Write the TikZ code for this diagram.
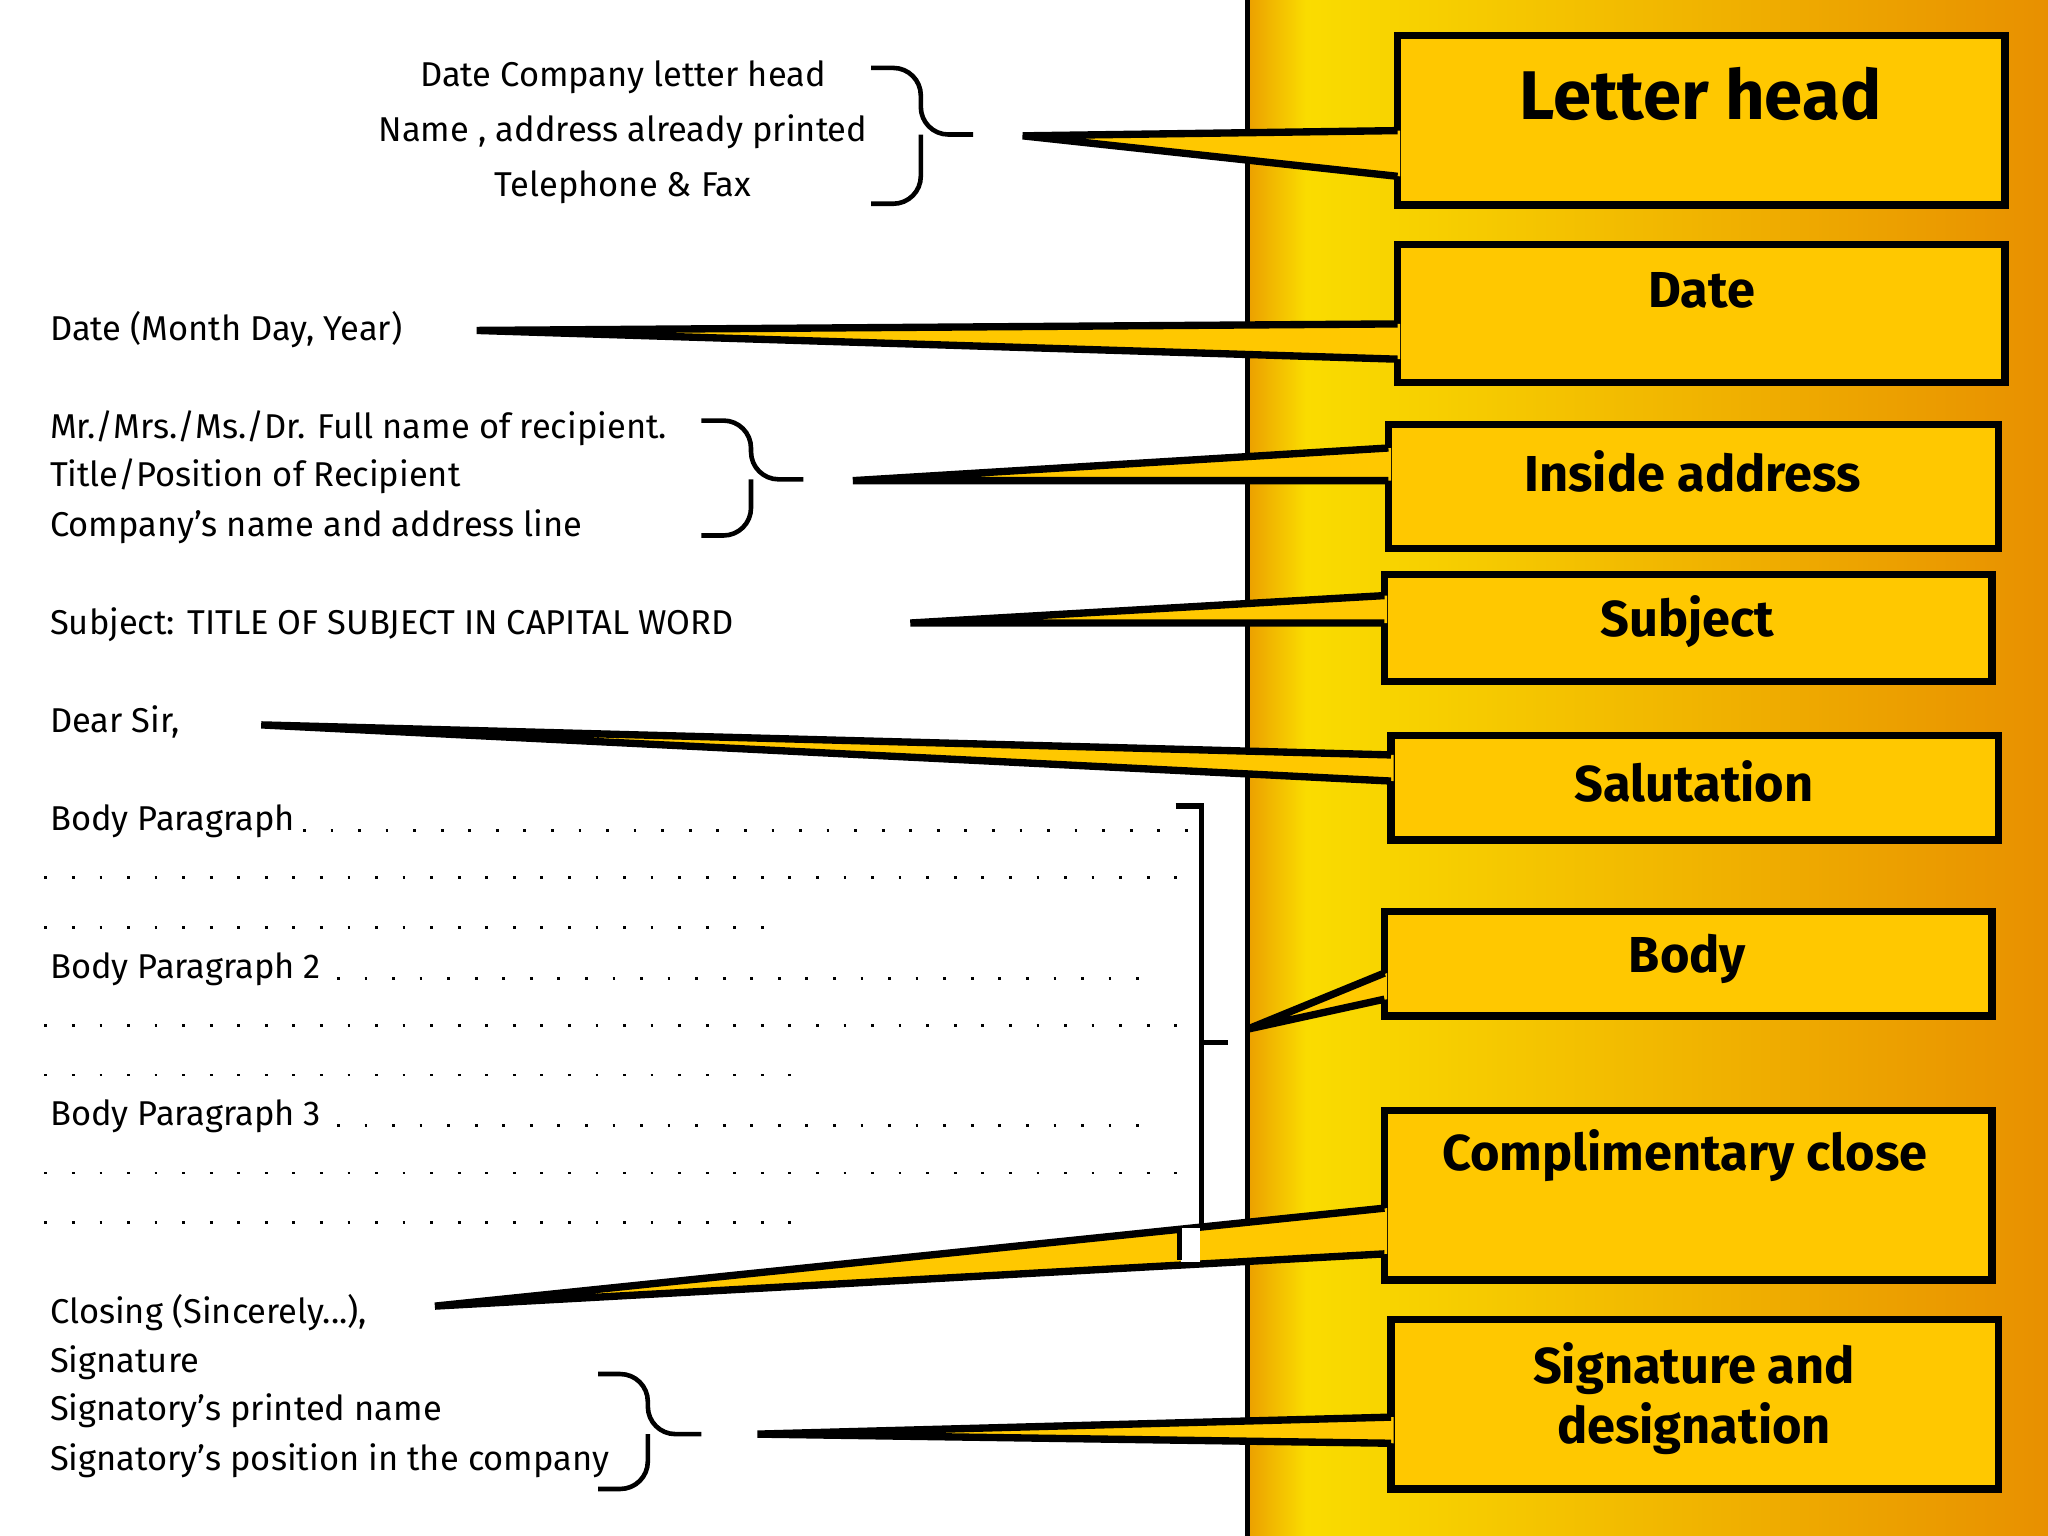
\documentclass[tikz,border=0pt]{standalone}
\usepackage{fontspec}
\setmainfont{Fira Sans}
\usepackage{tikz}
\definecolor{boxfill}{HTML}{FFC800}
\definecolor{bgorange}{HTML}{E89000}
\definecolor{bgyellow}{HTML}{FADC00}
\tikzset{
  txt/.style={anchor=west,font=\fontsize{7.5}{9}\selectfont},
  tag/.style={draw,line width=1.6pt,fill=boxfill},
  tagtxt/.style={font=\fontsize{11}{13}\bfseries\selectfont,align=center},
  wedge/.style={fill=boxfill},
  dots/.style={line width=0.6pt,dash pattern=on 0.6pt off 5.4pt},
}
\begin{document}
\begin{tikzpicture}[>=latex,x=0.01cm,y=-0.01cm]
\useasboundingbox (0,0) rectangle (1568,1176);
%background
\fill[white] (0,0) rectangle (955,1176);
\shade[left color=bgorange!80!bgyellow,right color=bgorange] (955,0) rectangle (1568,1176);
\shade[left color=bgorange!80!bgyellow,right color=bgyellow] (955,0) rectangle (1000,1176);
\shade[left color=bgyellow,right color=bgorange] (1000,0) rectangle (1568,1176);
\draw[line width=1pt] (955,0) -- (955,1176);
%tag boxes
\draw[tag] (1070,27) rectangle (1535,157) coordinate (lh);
\draw[tag] (1070,187) rectangle (1535,293) coordinate (dt);
\draw[tag] (1063,325) rectangle (1530,420) coordinate (ia);
\draw[tag] (1060,440) rectangle (1525,522) coordinate (sb);
\draw[tag] (1065,563) rectangle (1530,643) coordinate (sl);
\draw[tag] (1060,698) rectangle (1525,778) coordinate (bd);
\draw[tag] (1060,850) rectangle (1525,980) coordinate (cc);
\draw[tag] (1065,1010) rectangle (1530,1140) coordinate (sg);
\node[tagtxt,font=\fontsize{15}{17}\bfseries\selectfont] (lhtxt) at (1302,72) {Letter head};
\node[tagtxt] (dttxt) at (1303,222) {Date};
\node[tagtxt] (iatxt) at (1296,361) {Inside address};
\node[tagtxt] (sbtxt) at (1292,476) {Subject};
\node[tagtxt] (sltxt) at (1297,598) {Salutation};
\node[tagtxt] (bdtxt) at (1292,734) {Body};
\node[tagtxt] (cctxt) at (1290,885) {Complimentary close};
\node[tagtxt] (sgtxt) at (1297,1071) {Signature and\\designation};
%body bracket
\draw[line width=1.2pt] (900,617) -- (920,617) -- (920,965);
\draw[line width=1.2pt] (920,798) -- (940,798);
%wedges
\foreach \tx/\ty/\ex/\ea/\eb in {783/104/1070/100/135, 365/253/1070/248/275,
    653/368/1063/343/368, 697/477/1060/456/477, 200/555/1065/578/598,
    955/788/1060/745/765, 333/1000/1060/925/960, 580/1098/1065/1085/1105}
{
  \fill[wedge] (\tx,\ty) -- (\ex+2,\ea) -- (\ex+2,\eb) -- cycle;
  \draw[line width=1.6pt] (\ex,\ea) -- (\tx,\ty) -- (\ex,\eb);
}
\fill[white] (904,940) rectangle (919,966);
\draw[line width=1.2pt] (903,940) -- (903,965);
%braces
\draw[line width=1pt,rounded corners=6] (667,52) -- (705,52) -- (705,103) -- (745,103);
\draw[line width=1pt,rounded corners=6] (667,156) -- (705,156) -- (705,103);
\draw[line width=1pt,rounded corners=6] (537,322) -- (575,322) -- (575,367) -- (615,367);
\draw[line width=1pt,rounded corners=6] (537,410) -- (575,410) -- (575,367);
\draw[line width=1pt,rounded corners=6] (458,1052) -- (496,1052) -- (496,1098) -- (537,1098);
\draw[line width=1pt,rounded corners=6] (458,1140) -- (496,1140) -- (496,1098);
%letter texts
\node[font=\fontsize{7.5}{9}\selectfont,align=center] (head) at (477,101)
  {Date Company letter head\\[3pt]Name , address already printed\\[3pt]Telephone \& Fax};
\node[txt] (date) at (26,252) {Date (Month Day, Year)};
\node[txt] (rcp1) at (26,328) {Mr./Mrs./Ms./Dr. Full name of recipient.};
\node[txt] (rcp2) at (26,365) {Title/Position of Recipient};
\node[txt] (rcp3) at (26,403) {Company’s name and address line};
\node[txt] (subj) at (26,478) {Subject: TITLE OF SUBJECT IN CAPITAL WORD};
\node[txt] (dear) at (26,553) {Dear Sir,};
\node[txt] (par1) at (26,629) {Body Paragraph};
\node[txt] (par2) at (26,742) {Body Paragraph 2};
\node[txt] (par3) at (26,855) {Body Paragraph 3};
\node[txt] (cls) at (26,1005) {Closing (Sincerely...),};
\node[txt] (sig1) at (26,1043) {Signature};
\node[txt] (sig2) at (26,1080) {Signatory’s printed name};
\node[txt] (sig3) at (26,1118) {Signatory’s position in the company};
%dotted lines
\foreach \xa/\y/\xb in {232/636/925, 34/672/905, 34/710/600, 258/749/890,
    34/785/905, 34/823/615, 258/862/890, 34/898/905, 34/936/615}
{
  \draw[dots] (\xa,\y) -- (\xb,\y);
}
\end{tikzpicture}
\end{document}
